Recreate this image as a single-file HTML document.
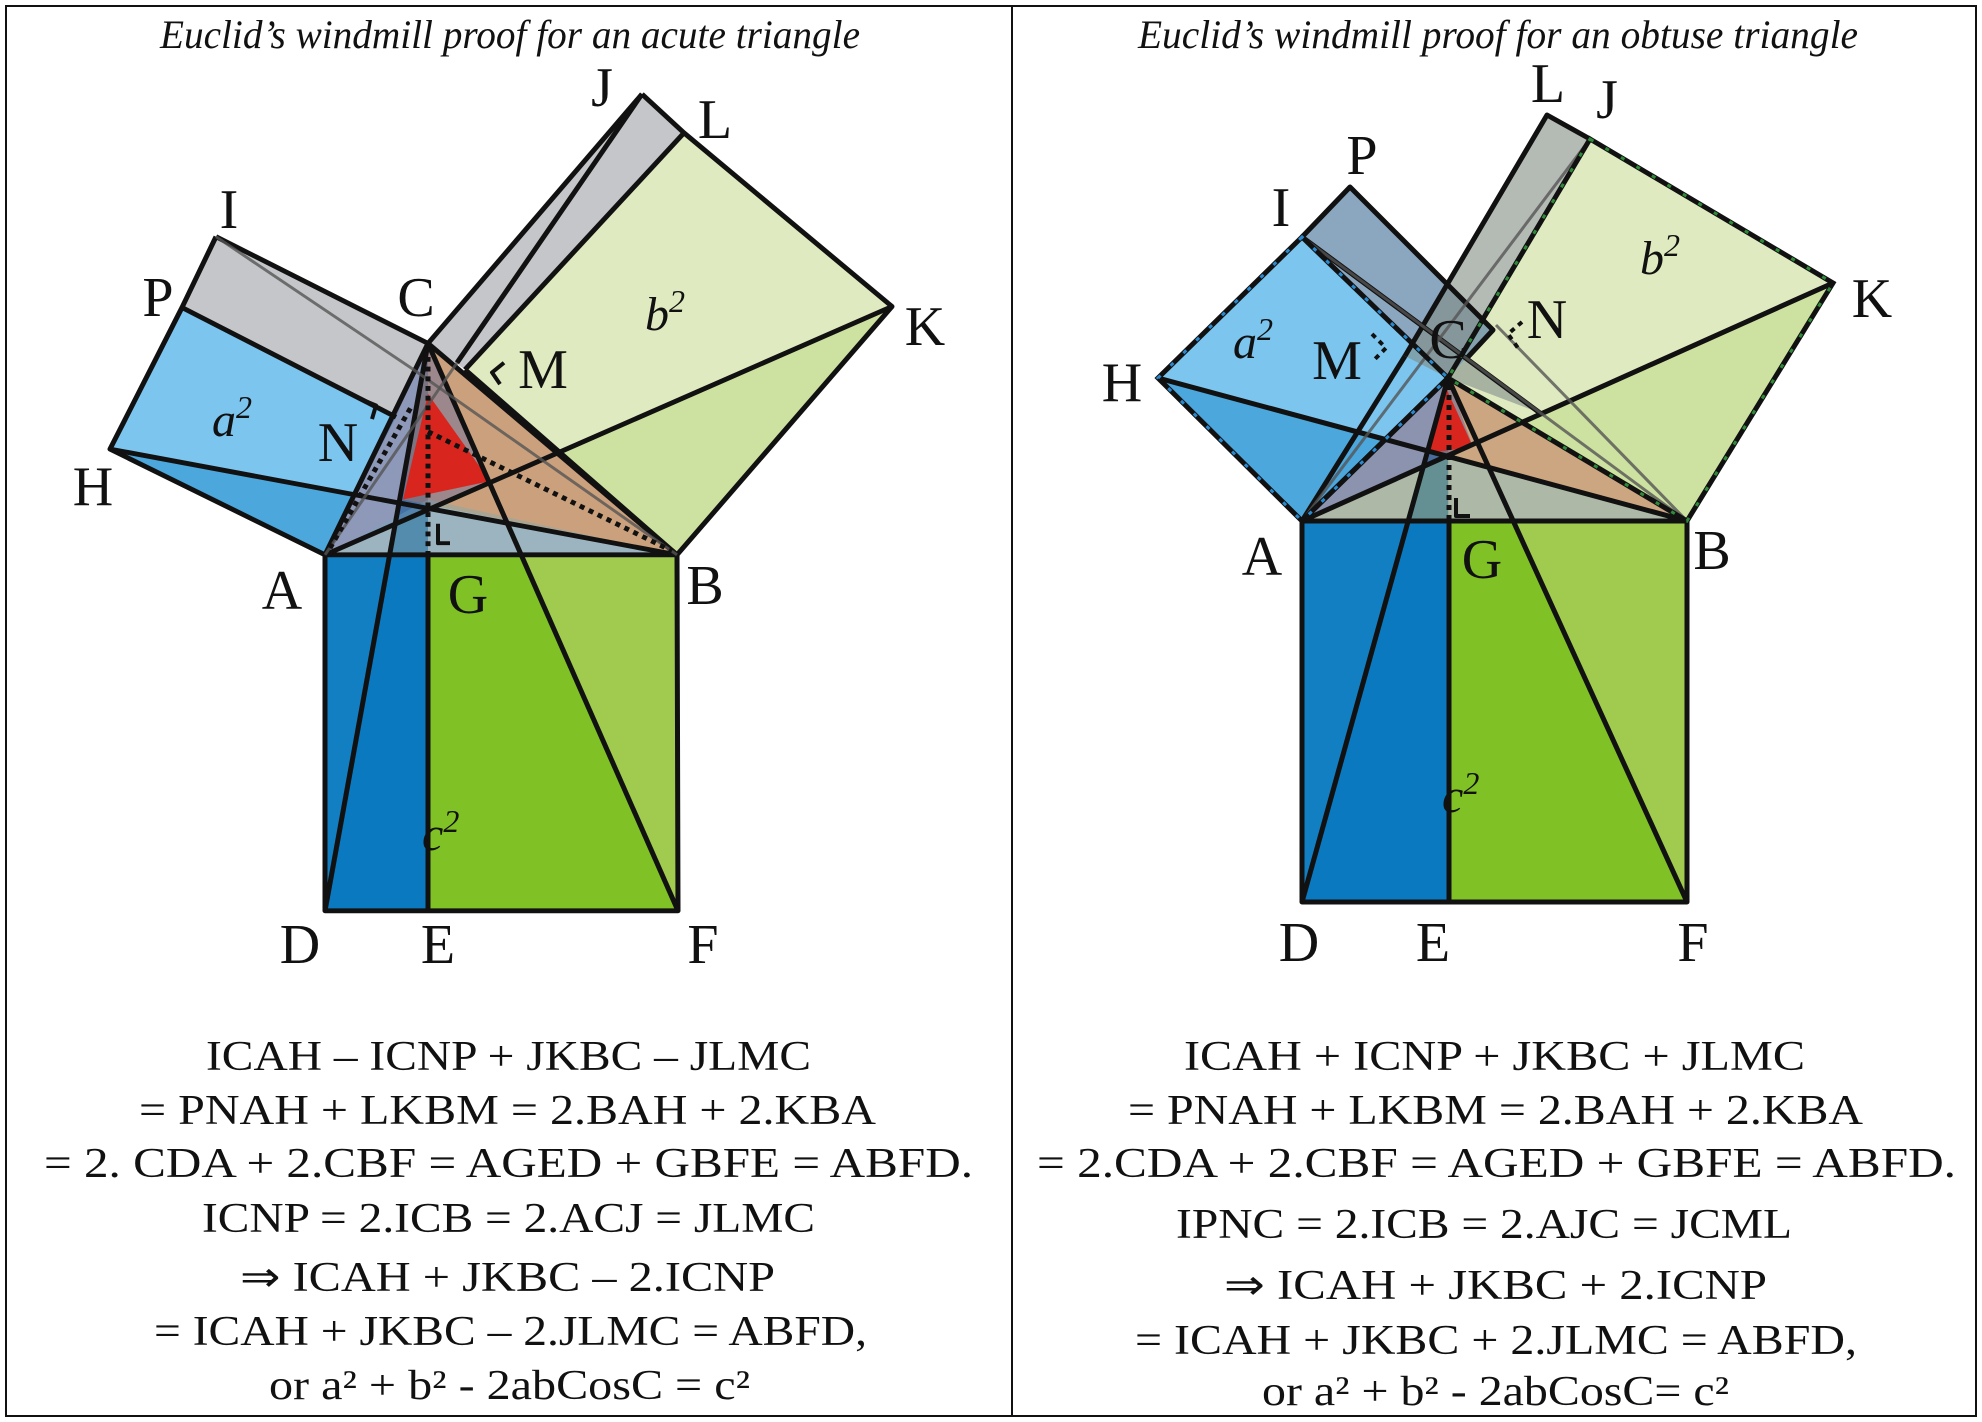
<!DOCTYPE html>
<html><head><meta charset="utf-8"><style>
html,body{margin:0;padding:0;background:#fff}
svg{display:block}
text{font-family:"Liberation Serif",serif;fill:#111}
.lab{font-size:56px}
.eq{font-size:42px}
.tt{font-size:40px;font-style:italic}
.th{stroke:#111;stroke-width:5;fill:none;stroke-linejoin:round}
.tn{stroke:#555;stroke-width:3;fill:none;opacity:.8}
.dt{stroke:#111;stroke-width:5;fill:none;stroke-dasharray:5 5}
</style></head><body>
<svg width="1982" height="1422" viewBox="0 0 1982 1422" xmlns="http://www.w3.org/2000/svg">
<rect x="0" y="0" width="1982" height="1422" fill="#fff"/>
<rect x="6" y="6" width="1970" height="1410" fill="none" stroke="#111" stroke-width="2"/>
<line x1="1012" y1="6" x2="1012" y2="1416" stroke="#111" stroke-width="2"/>

<text class="tt" x="160" y="48" textLength="700" lengthAdjust="spacingAndGlyphs">Euclid’s windmill proof for an acute triangle</text>
<text class="tt" x="1138" y="48" textLength="720" lengthAdjust="spacingAndGlyphs">Euclid’s windmill proof for an obtuse triangle</text>

<!-- LEFT PANEL -->
<g transform="matrix(1,0,0,0.97,0,0)">
<polygon points="325,572 428,572 428,939 325,939" fill="#127fc3"/>
<polygon points="428,572 677,572 678,939 428,939" fill="#80c125"/>
<polygon points="428,354 325,939 428,939" fill="#0a79bf"/>
<polygon points="521,572 677,572 678,939" fill="#a0cb4f"/>
<polygon points="182,317 110,463 325,572 396,430" fill="#7bc5ef"/>
<polygon points="110,463 325,572 356,510" fill="#4ba7dc"/>
<polygon points="216,244 182,317 396,430 428,354" fill="#c4c6c9"/>
<polygon points="428,354 642,97 684,137 465,381" fill="#c4c6c9"/>
<polygon points="684,137 892,316 677,572 465,381" fill="#dfeac0"/>
<polygon points="892,316 677,572 560,466" fill="#cde2a0"/>
<polygon points="325,572 677,572 428,354" fill="rgba(120,130,140,0.55)"/>
<polygon points="428,354 677,572 403,515" fill="rgba(220,140,70,0.55)"/>
<polygon points="428,354 325,572 490,496" fill="rgba(70,90,170,0.35)"/>
<polygon points="325,572 677,572 428,515" fill="rgba(110,170,190,0.35)"/>
<polygon points="428,406 490,496 403,515" fill="#d8261f"/>
<polyline class="th" points="216,244 182,317 110,463 325,572 677,572 678,939 325,939 325,572"/>
<line class="th" x1="428" y1="572" x2="428" y2="939"/>
<line class="th" x1="182" y1="317" x2="396" y2="430"/>
<line class="th" x1="216" y1="244" x2="428" y2="354"/>
<line class="th" x1="325" y1="572" x2="428" y2="354"/>
<line class="th" x1="428" y1="354" x2="677" y2="572"/>
<line class="th" x1="428" y1="354" x2="642" y2="97"/>
<polyline class="th" points="642,97 684,137 892,316 677,572"/>
<line class="th" x1="684" y1="137" x2="465" y2="381"/>
<line class="th" x1="465" y1="381" x2="677" y2="572"/>
<line class="th" x1="428" y1="354" x2="325" y2="939"/>
<line class="th" x1="428" y1="354" x2="678" y2="939"/>
<line class="th" x1="110" y1="463" x2="677" y2="572"/>
<line class="th" x1="892" y1="316" x2="325" y2="572"/>
<line class="th" x1="642" y1="97" x2="457" y2="374"/>
<line class="tn" x1="216" y1="244" x2="412" y2="380"/>
<line class="tn" x1="457" y1="374" x2="325" y2="572"/>
<line class="tn" x1="412" y1="380" x2="677" y2="572"/>
<line class="dt" x1="428" y1="358" x2="428" y2="572"/>
<line class="dt" x1="330" y1="565" x2="412" y2="418"/>
<line class="dt" x1="428" y1="445" x2="672" y2="568"/>
<polyline class="th" points="438,540 438,560 450,560" style="stroke-width:4"/>
<polyline class="th" points="362,412 376,418 372,432" style="stroke-width:4"/>
<polyline class="th" points="504,374 492,384 500,396" style="stroke-width:4"/>
</g>
<g class="lab" text-anchor="middle" dominant-baseline="central">
<text x="602" y="88">J</text><text x="715" y="120">L</text><text x="229" y="210">I</text>
<text x="158" y="298">P</text><text x="416" y="298">C</text><text x="925" y="327">K</text>
<text x="543" y="370">M</text><text x="338" y="443">N</text><text x="93" y="487">H</text>
<text x="282" y="591">A</text><text x="468" y="595">G</text><text x="705" y="586">B</text>
<text x="300" y="945">D</text><text x="438" y="945">E</text><text x="703" y="945">F</text>
</g>
<g font-style="italic" font-size="48">
<text x="212" y="436">a<tspan dy="-18" font-size="32">2</tspan></text>
<text x="645" y="330">b<tspan dy="-18" font-size="32">2</tspan></text>
<text x="422" y="850">c<tspan dy="-18" font-size="32">2</tspan></text>
</g>

<!-- RIGHT PANEL -->
<g>
<polygon points="1302,521 1449,521 1449,902 1302,902" fill="#127fc3"/>
<polygon points="1449,521 1687,521 1687,902 1449,902" fill="#80c125"/>
<polygon points="1448,378 1302,902 1449,902" fill="#0a79bf"/>
<polygon points="1513,521 1687,521 1687,902" fill="#a0cb4f"/>
<polygon points="1302,237 1158,378 1302,521 1448,378" fill="#7bc5ef"/>
<polygon points="1158,378 1302,521 1385,439" fill="#4ba7dc"/>
<polygon points="1590,139 1833,283 1687,521 1448,378" fill="#dfeac0"/>
<polygon points="1833,283 1687,521 1523,423" fill="#cde2a0"/>
<polygon points="1302,237 1350,187 1493,330 1448,378" fill="rgba(90,130,165,0.7)"/>
<polygon points="1547,115 1590,139 1448,378 1405,356" fill="rgba(130,140,130,0.6)"/>
<polygon points="1448,378 1467,358 1540,413" fill="rgba(130,140,140,0.6)"/>
<polygon points="1302,521 1687,521 1448,378" fill="rgba(130,140,130,0.55)"/>
<polygon points="1448,378 1687,521 1428,453" fill="rgba(220,140,70,0.5)"/>
<polygon points="1448,378 1302,521 1473,447" fill="rgba(70,80,160,0.4)"/>
<polygon points="1302,521 1687,521 1449,455" fill="rgba(150,170,130,0.35)"/>
<polygon points="1447,390 1473,447 1428,453" fill="#d8261f"/>
<polyline class="th" points="1302,521 1687,521 1687,902 1302,902 1302,521"/>
<line class="th" x1="1449" y1="521" x2="1449" y2="902"/>
<line class="th" x1="1448" y1="378" x2="1302" y2="902"/>
<line class="th" x1="1448" y1="378" x2="1687" y2="902"/>
<polyline class="th" points="1302,237 1350,187 1493,330 1467,358"/>
<line class="th" x1="1302" y1="237" x2="1540" y2="413"/>
<polyline class="th" points="1405,356 1547,115 1590,139"/>
<line class="th" x1="1405" y1="356" x2="1302" y2="521"/>
<line class="th" x1="1158" y1="378" x2="1687" y2="521"/>
<line class="th" x1="1833" y1="283" x2="1302" y2="521"/>
<line class="th" x1="1448" y1="378" x2="1302" y2="521"/>
<line class="tn" x1="1302" y1="237" x2="1687" y2="521"/>
<line class="tn" x1="1590" y1="139" x2="1302" y2="521"/>
<line class="tn" x1="1496" y1="325" x2="1687" y2="521"/>
<polygon points="1302,237 1158,378 1302,521 1448,378" fill="none" stroke="#111" stroke-width="5"/>
<polygon points="1302,237 1158,378 1302,521 1448,378" fill="none" stroke="#2a8ad0" stroke-width="3" stroke-dasharray="4 14"/>
<polygon points="1590,139 1833,283 1687,521 1448,378" fill="none" stroke="#111" stroke-width="5"/>
<polygon points="1590,139 1833,283 1687,521 1448,378" fill="none" stroke="#2f8a3a" stroke-width="3" stroke-dasharray="4 14"/>
<line class="dt" x1="1449" y1="385" x2="1449" y2="521"/>
<polyline class="th" points="1456,498 1456,516 1470,516" style="stroke-width:4"/>
<polyline class="dt" points="1372,334 1386,348 1372,362" style="stroke-width:4"/>
<polyline class="dt" points="1522,322 1508,334 1518,348" style="stroke-width:4"/>
</g>
<g class="lab" text-anchor="middle" dominant-baseline="central">
<text x="1548" y="84">L</text><text x="1607" y="100">J</text><text x="1362" y="156">P</text>
<text x="1281" y="208">I</text><text x="1872" y="299">K</text><text x="1547" y="320">N</text>
<text x="1448" y="340">C</text><text x="1337" y="361">M</text><text x="1122" y="383">H</text>
<text x="1262" y="557">A</text><text x="1482" y="560">G</text><text x="1712" y="551">B</text>
<text x="1299" y="943">D</text><text x="1433" y="943">E</text><text x="1693" y="943">F</text>
</g>
<g font-style="italic" font-size="48">
<text x="1233" y="358">a<tspan dy="-18" font-size="32">2</tspan></text>
<text x="1640" y="274">b<tspan dy="-18" font-size="32">2</tspan></text>
<text x="1442" y="812">c<tspan dy="-18" font-size="32">2</tspan></text>
</g>

<!-- EQUATIONS -->
<g class="eq">
<text x="206" y="1070" textLength="605" lengthAdjust="spacingAndGlyphs">ICAH – ICNP + JKBC – JLMC</text>
<text x="139" y="1124" textLength="737" lengthAdjust="spacingAndGlyphs">= PNAH + LKBM = 2.BAH + 2.KBA</text>
<text x="44" y="1177" textLength="929" lengthAdjust="spacingAndGlyphs">= 2. CDA + 2.CBF = AGED + GBFE = ABFD.</text>
<text x="202" y="1232" textLength="613" lengthAdjust="spacingAndGlyphs">ICNP = 2.ICB = 2.ACJ = JLMC</text>
<text x="240" y="1291" textLength="535" lengthAdjust="spacingAndGlyphs">⇒ ICAH + JKBC – 2.ICNP</text>
<text x="154" y="1345" textLength="713" lengthAdjust="spacingAndGlyphs">= ICAH + JKBC – 2.JLMC = ABFD,</text>
<text x="269" y="1399" textLength="481" lengthAdjust="spacingAndGlyphs">or a² + b² - 2abCosC = c²</text>

<text x="1184" y="1070" textLength="621" lengthAdjust="spacingAndGlyphs">ICAH + ICNP + JKBC + JLMC</text>
<text x="1128" y="1124" textLength="735" lengthAdjust="spacingAndGlyphs">= PNAH + LKBM = 2.BAH + 2.KBA</text>
<text x="1037" y="1177" textLength="919" lengthAdjust="spacingAndGlyphs">= 2.CDA + 2.CBF = AGED + GBFE = ABFD.</text>
<text x="1176" y="1238" textLength="616" lengthAdjust="spacingAndGlyphs">IPNC = 2.ICB = 2.AJC = JCML</text>
<text x="1224" y="1299" textLength="543" lengthAdjust="spacingAndGlyphs">⇒ ICAH + JKBC + 2.ICNP</text>
<text x="1135" y="1354" textLength="722" lengthAdjust="spacingAndGlyphs">= ICAH + JKBC + 2.JLMC = ABFD,</text>
<text x="1262" y="1405" textLength="467" lengthAdjust="spacingAndGlyphs">or a² + b² - 2abCosC= c²</text>
</g>
</svg>
</body></html>
